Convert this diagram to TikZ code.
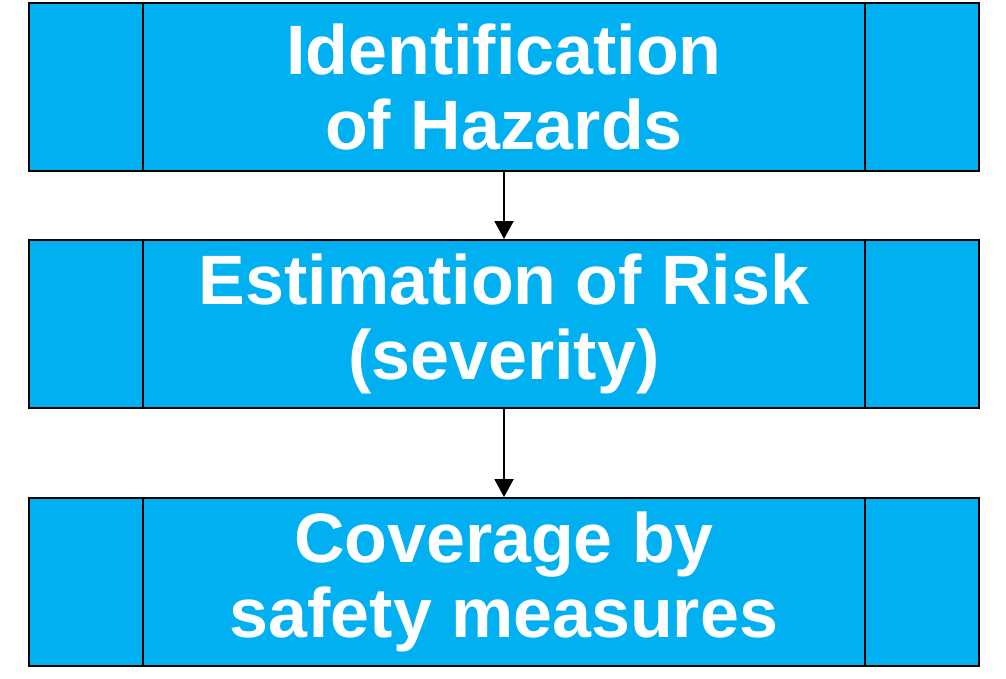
\documentclass[tikz,border=0pt]{standalone}
\usepackage{fontspec}
\setmainfont{Liberation Sans}
\usepackage{tikz}
\usetikzlibrary{positioning}
\usetikzlibrary{arrows.meta}
\definecolor{stepblue}{RGB}{0,176,240}

\begin{document}
\begin{tikzpicture}[
    stagebox/.style={shape=rectangle, draw, line width=1.1pt, fill=stepblue,
      minimum width=19cm, minimum height=3.36cm, align=center,
      text=white, font=\bfseries\fontsize{39.8}{42.7}\selectfont},
    flow/.style={-{Triangle[length=0.36cm, width=0.38cm]}, line width=1.1pt}]
      \useasboundingbox (0,0) rectangle (20.12,-13.56);
      \node[stagebox] (hazards) at (10.08,-1.74) {Identification\\of Hazards};
      \node[stagebox] (risk) at (10.08,-6.48) {Estimation of Risk\\(severity)};
      \node[stagebox] (cover) at (10.08,-11.64) {Coverage by\\safety measures};
      
      \foreach \b in {hazards, risk, cover} {
        \draw[line width=1.1pt] ([xshift=2.3cm]\b.north west) -- ([xshift=2.3cm]\b.south west);
        \draw[line width=1.1pt] ([xshift=-2.3cm]\b.north east) -- ([xshift=-2.3cm]\b.south east);
      }
      
      \draw[flow] (hazards.south) -- (risk.north);
      \draw[flow] (risk.south) -- (cover.north);
    \end{tikzpicture}
\end{document}
